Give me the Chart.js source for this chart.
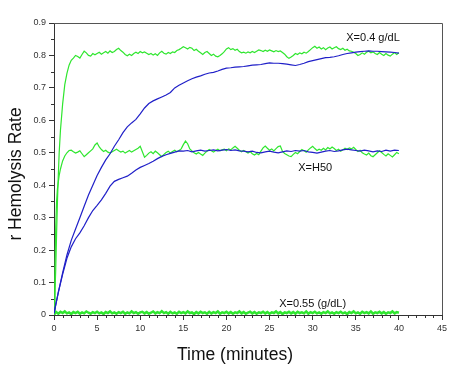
<!DOCTYPE html>
<html lang="en">
<head>
    <meta charset="UTF-8">
    <title>Hemolysis rate</title>
    <script src="https://cdn.jsdelivr.net/npm/chart.js"></script>
    <style>
        html, body {
            margin: 0;
            padding: 0;
            background-color: #FFFFFF;
        }
        #wrap {
            width: 474px;
            height: 383px;
        }
    </style>
</head>
<body>
    <div id="wrap"><canvas id="myChart" width="474" height="383"></canvas></div>

    <script>
        // ---- data ----
        var xTicks = [0, 5, 10, 15, 20, 25, 30, 35, 40, 45];
        var yTicks = [0, 0.1, 0.2, 0.3, 0.4, 0.5, 0.6, 0.7, 0.8, 0.9];

        // green (noisy) traces: dense start, then every 0.25 min
        var greenEarlyTime = [0, 0.1, 0.2, 0.3, 0.4, 0.5, 0.6, 0.75, 1, 1.25, 1.5, 1.75];
        var green04 = [
            0.000, 0.060, 0.140, 0.250, 0.350, 0.430, 0.500, 0.570, 0.650, 0.710, 0.745, 0.770,
            0.785, 0.792, 0.800, 0.797, 0.792, 0.803, 0.813, 0.808, 0.800, 0.798,
            0.806, 0.802, 0.806, 0.810, 0.804, 0.808, 0.812, 0.807, 0.814, 0.809,
            0.812, 0.818, 0.822, 0.815, 0.810, 0.803, 0.799, 0.804, 0.800, 0.806,
            0.810, 0.806, 0.812, 0.808, 0.811, 0.807, 0.803, 0.806, 0.801, 0.805,
            0.800, 0.808, 0.813, 0.807, 0.804, 0.809, 0.806, 0.811, 0.809, 0.815,
            0.818, 0.822, 0.827, 0.824, 0.820, 0.825, 0.822, 0.815, 0.819, 0.813,
            0.808, 0.803, 0.809, 0.812, 0.806, 0.800, 0.804, 0.798, 0.796, 0.800,
            0.805, 0.812, 0.820, 0.824, 0.818, 0.821, 0.816, 0.819, 0.812, 0.808,
            0.810, 0.807, 0.811, 0.808, 0.812, 0.809, 0.813, 0.817, 0.815, 0.812,
            0.816, 0.813, 0.817, 0.814, 0.811, 0.815, 0.812, 0.814, 0.809, 0.804,
            0.796, 0.791, 0.795, 0.800, 0.806, 0.803, 0.808, 0.805, 0.810, 0.807,
            0.812, 0.818, 0.824, 0.828, 0.822, 0.826, 0.820, 0.824, 0.818, 0.823,
            0.826, 0.820, 0.824, 0.827, 0.821, 0.818, 0.822, 0.816, 0.819, 0.814,
            0.813, 0.810, 0.806, 0.800, 0.803, 0.808, 0.804, 0.810, 0.813, 0.808,
            0.811, 0.806, 0.803, 0.809, 0.804, 0.800, 0.806, 0.801, 0.798, 0.804,
            0.809, 0.803, 0.808
        ];
        var greenH50 = [
            0.000, 0.120, 0.270, 0.350, 0.390, 0.410, 0.430, 0.450, 0.475, 0.490, 0.500, 0.507,
            0.508, 0.503, 0.499, 0.502, 0.506, 0.497, 0.488, 0.494, 0.500, 0.506,
            0.512, 0.524, 0.530, 0.518, 0.510, 0.504, 0.508, 0.502, 0.499, 0.503,
            0.507, 0.511, 0.506, 0.502, 0.505, 0.499, 0.503, 0.507, 0.502, 0.506,
            0.510, 0.514, 0.520, 0.503, 0.486, 0.492, 0.499, 0.503, 0.497, 0.505,
            0.500, 0.494, 0.488, 0.495, 0.501, 0.505, 0.499, 0.504, 0.508, 0.503,
            0.507, 0.512, 0.525, 0.536, 0.528, 0.512, 0.506, 0.500, 0.496, 0.501,
            0.496, 0.492, 0.499, 0.505, 0.510, 0.506, 0.502, 0.507, 0.511, 0.506,
            0.509, 0.511, 0.506, 0.512, 0.509, 0.515, 0.520, 0.514, 0.508, 0.503,
            0.507, 0.503, 0.499, 0.504, 0.497, 0.493, 0.498, 0.494, 0.505, 0.515,
            0.521, 0.514, 0.508, 0.512, 0.506, 0.513, 0.519, 0.521, 0.504, 0.498,
            0.494, 0.490, 0.488, 0.495, 0.501, 0.497, 0.504, 0.510, 0.506, 0.502,
            0.509, 0.515, 0.520, 0.513, 0.507, 0.511, 0.508, 0.514, 0.509, 0.516,
            0.512, 0.518, 0.513, 0.507, 0.511, 0.505, 0.509, 0.514, 0.510, 0.515,
            0.512, 0.517, 0.510, 0.504, 0.508, 0.500, 0.496, 0.493, 0.499, 0.491,
            0.488, 0.494, 0.500, 0.506, 0.501, 0.495, 0.490, 0.497, 0.492, 0.487,
            0.494, 0.501, 0.497
        ];
        // X=0.55 trace, every 0.25 min from 0 to 40
        var green055 = [
            0.005, 0.009, 0.004, 0.010, 0.006, 0.011, 0.005, 0.008, 0.003, 0.009,
            0.006, 0.010, 0.004, 0.008, 0.005, 0.011, 0.007, 0.004, 0.009, 0.006,
            0.010, 0.005, 0.008, 0.003, 0.009, 0.006, 0.011, 0.005, 0.008, 0.004,
            0.009, 0.006, 0.010, 0.004, 0.008, 0.005, 0.011, 0.006, 0.009, 0.004,
            0.008, 0.010, 0.005, 0.009, 0.004, 0.007, 0.011, 0.005, 0.009, 0.006,
            0.012, 0.006, 0.009, 0.004, 0.010, 0.005, 0.008, 0.004, 0.010, 0.006,
            0.009, 0.005, 0.011, 0.006, 0.008, 0.003, 0.009, 0.005, 0.010, 0.006,
            0.008, 0.004, 0.010, 0.005, 0.009, 0.006, 0.011, 0.004, 0.008, 0.006,
            0.010, 0.005, 0.009, 0.004, 0.008, 0.006, 0.011, 0.005, 0.009, 0.004,
            0.007, 0.010, 0.005, 0.009, 0.004, 0.008, 0.006, 0.010, 0.005, 0.009,
            0.004, 0.008, 0.006, 0.011, 0.005, 0.009, 0.003, 0.008, 0.006, 0.010,
            0.005, 0.009, 0.004, 0.010, 0.006, 0.008, 0.005, 0.011, 0.004, 0.009,
            0.006, 0.010, 0.005, 0.008, 0.004, 0.009, 0.006, 0.011, 0.005, 0.008,
            0.004, 0.009, 0.006, 0.010, 0.005, 0.008, 0.003, 0.009, 0.006, 0.011,
            0.005, 0.008, 0.004, 0.010, 0.006, 0.009, 0.005, 0.011, 0.004, 0.008,
            0.006, 0.010, 0.005, 0.009, 0.004, 0.008, 0.006, 0.011, 0.005, 0.009,
            0.007
        ];

        // blue (smooth) traces, every 0.5 min from 0 to 40
        var blue04 = [
            0.005, 0.070, 0.130, 0.185, 0.230, 0.265, 0.300, 0.335, 0.370, 0.400,
            0.430, 0.455, 0.478, 0.497, 0.520, 0.540, 0.562, 0.580, 0.592, 0.603,
            0.620, 0.638, 0.652, 0.660, 0.666, 0.672, 0.678, 0.686, 0.700, 0.708,
            0.715, 0.722, 0.728, 0.733, 0.737, 0.742, 0.746, 0.748, 0.752, 0.757,
            0.761, 0.762, 0.764, 0.765, 0.766, 0.768, 0.770, 0.771, 0.772, 0.775,
            0.777, 0.776, 0.776, 0.775, 0.773, 0.771, 0.769, 0.772, 0.776, 0.781,
            0.784, 0.787, 0.790, 0.793, 0.794, 0.796, 0.799, 0.803, 0.806, 0.808,
            0.810, 0.812, 0.813, 0.814, 0.813, 0.813, 0.812, 0.811, 0.810, 0.809,
            0.807
        ];
        var blueH50 = [
            0.005, 0.070, 0.125, 0.175, 0.210, 0.235, 0.253, 0.275, 0.300, 0.322,
            0.338, 0.355, 0.375, 0.397, 0.412, 0.418, 0.423, 0.428, 0.437, 0.447,
            0.455, 0.461, 0.467, 0.474, 0.482, 0.489, 0.494, 0.498, 0.502, 0.506,
            0.505, 0.507, 0.503, 0.506, 0.508, 0.505, 0.507, 0.509, 0.506, 0.508,
            0.510, 0.507, 0.509, 0.506, 0.505, 0.503, 0.505, 0.501, 0.500, 0.503,
            0.505, 0.502, 0.500, 0.503, 0.506, 0.504, 0.507, 0.505, 0.507, 0.503,
            0.501, 0.499, 0.502, 0.505, 0.507, 0.504, 0.506, 0.509, 0.511, 0.509,
            0.507, 0.505, 0.508, 0.506, 0.503, 0.506, 0.504, 0.508, 0.505, 0.508,
            0.507
        ];

        var notes = [
            { text: 'X=0.4 g/dL', x: 37.0, y: 0.855 },
            { text: 'X=H50', x: 30.3, y: 0.454 },
            { text: 'X=0.55 (g/dL)', x: 30.0, y: 0.035 }
        ];

        var GREEN = '#2fe62f';
        var BLUE = '#2020c8';
        var FONT = "'Liberation Sans', Arial, sans-serif";

        // time grids
        function grid(start, step, n) {
            var out = [];
            for (var i = 0; i < n; i++) out.push(+(start + i * step).toFixed(2));
            return out;
        }
        var greenTime = greenEarlyTime.concat(grid(2, 0.25, 153));
        var lowTime = grid(0, 0.25, 161);
        var blueTime = grid(0, 0.5, 81);

        function pts(t, v) {
            return v.map(function(val, i) { return { x: t[i], y: val }; });
        }

        // frame, minor ticks, notes and axis titles
        var extras = {
            id: 'extras',
            afterDraw: function(chart) {
                var ctx = chart.ctx;
                var a = chart.chartArea;
                var x = chart.scales.x, y = chart.scales.y;
                ctx.save();
                ctx.strokeStyle = '#555';
                ctx.lineWidth = 1;
                ctx.beginPath();
                ctx.moveTo(a.left, Math.round(a.top) + 0.5);
                ctx.lineTo(Math.round(a.right) + 0.5, Math.round(a.top) + 0.5);
                ctx.lineTo(Math.round(a.right) + 0.5, a.bottom);
                ctx.stroke();

                ctx.strokeStyle = '#333';
                ctx.beginPath();
                for (var t = 1; t < 45; t++) {
                    if (t % 5 === 0) continue;
                    var px = Math.round(x.getPixelForValue(t)) + 0.5;
                    ctx.moveTo(px, a.bottom);
                    ctx.lineTo(px, a.bottom + 3);
                }
                for (var k = 0; k < 9; k++) {
                    var py = Math.round(y.getPixelForValue(k * 0.1 + 0.05)) + 0.5;
                    ctx.moveTo(a.left, py);
                    ctx.lineTo(a.left - 3, py);
                }
                ctx.stroke();

                ctx.fillStyle = '#111';
                ctx.font = '11px ' + FONT;
                ctx.textAlign = 'center';
                ctx.textBaseline = 'middle';
                notes.forEach(function(n) {
                    ctx.fillText(n.text, x.getPixelForValue(n.x), y.getPixelForValue(n.y));
                });

                ctx.font = '17.5px ' + FONT;
                ctx.fillText('Time (minutes)', 235, 355);
                ctx.translate(16, 174);
                ctx.rotate(-Math.PI / 2);
                ctx.fillText('r Hemolysis Rate', 0, 0);
                ctx.restore();
            }
        };

        var ctx = document.getElementById('myChart').getContext('2d');

        var myChart = new Chart(ctx, {
            type: 'line',
            data: {
                datasets: [
                    { data: pts(blueTime, blue04), borderColor: BLUE, borderWidth: 1.2, order: 1 },
                    { data: pts(blueTime, blueH50), borderColor: BLUE, borderWidth: 1.2, order: 1 },
                    { data: pts(greenTime, green04), borderColor: GREEN, borderWidth: 1.2, order: 2 },
                    { data: pts(greenTime, greenH50), borderColor: GREEN, borderWidth: 1.2, order: 2 },
                    { data: pts(lowTime, green055), borderColor: GREEN, borderWidth: 2.5, order: 2 }
                ]
            },
            options: {
                responsive: false,
                animation: false,
                parsing: true,
                elements: {
                    point: { radius: 0 },
                    line: { tension: 0, fill: false }
                },
                layout: {
                    padding: { top: 23, right: 32, left: 0, bottom: 0 }
                },
                scales: {
                    x: {
                        type: 'linear',
                        min: 0,
                        max: 45,
                        afterFit: function(scale) { scale.height = 68; },
                        afterBuildTicks: function(scale) {
                            scale.ticks = xTicks.map(function(v) { return { value: v }; });
                        },
                        ticks: {
                            color: '#333',
                            font: { family: FONT, size: 9 },
                            padding: 3,
                            maxRotation: 0
                        },
                        grid: {
                            drawOnChartArea: false,
                            tickLength: 5,
                            color: '#333'
                        },
                        border: { color: '#333', width: 1 }
                    },
                    y: {
                        type: 'linear',
                        min: 0,
                        max: 0.9,
                        afterFit: function(scale) { scale.width = 54; },
                        afterBuildTicks: function(scale) {
                            scale.ticks = yTicks.map(function(v) { return { value: v }; });
                        },
                        ticks: {
                            color: '#333',
                            font: { family: FONT, size: 9 },
                            padding: 3,
                            callback: function(value) {
                                return value === 0 ? '0' : value.toFixed(1);
                            }
                        },
                        grid: {
                            drawOnChartArea: false,
                            tickLength: 5,
                            color: '#333'
                        },
                        border: { color: '#333', width: 1 }
                    }
                },
                plugins: {
                    legend: { display: false },
                    tooltip: { enabled: false }
                }
            },
            plugins: [extras]
        });
    </script>
</body>
</html>
